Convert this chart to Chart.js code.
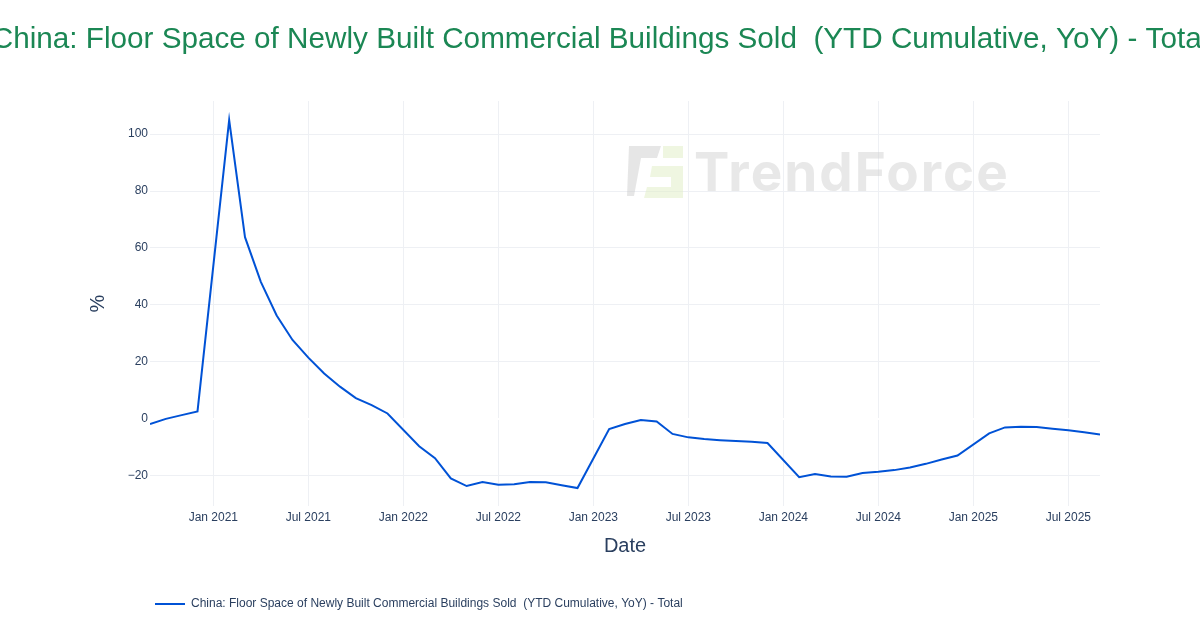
<!DOCTYPE html>
<html lang="en">
<head>
<meta charset="UTF-8">
<title>China: Floor Space of Newly Built Commercial Buildings Sold</title>
<script src="https://cdn.jsdelivr.net/npm/chart.js"></script>
<style>
  html, body { margin: 0; padding: 0; background: #fff; }
</style>
</head>
<body>
<canvas id="chart" width="1200" height="630"></canvas>
<script>
// monthly data (YTD cumulative, YoY %); Jan is reported together with Feb
const months = [
  '2020-09', '2020-10', '2020-11', '2020-12',
  '2021-02', '2021-03', '2021-04', '2021-05', '2021-06', '2021-07', '2021-08', '2021-09', '2021-10', '2021-11', '2021-12',
  '2022-02', '2022-03', '2022-04', '2022-05', '2022-06', '2022-07', '2022-08', '2022-09', '2022-10', '2022-11', '2022-12',
  '2023-02', '2023-03', '2023-04', '2023-05', '2023-06', '2023-07', '2023-08', '2023-09', '2023-10', '2023-11', '2023-12',
  '2024-02', '2024-03', '2024-04', '2024-05', '2024-06', '2024-07', '2024-08', '2024-09', '2024-10', '2024-11', '2024-12',
  '2025-02', '2025-03', '2025-04', '2025-05', '2025-06', '2025-07', '2025-08', '2025-09'
];
const yoy = [
  -1.8, 0.0, 1.3, 2.6,
  104.9, 63.8, 48.1, 36.3, 27.7, 21.5, 15.9, 11.3, 7.3, 4.8, 1.9,
  -9.6, -13.8, -20.9, -23.6, -22.2, -23.1, -23.0, -22.2, -22.3, -23.3, -24.3,
  -3.6, -1.8, -0.4, -0.9, -5.3, -6.5, -7.1, -7.5, -7.8, -8.0, -8.5,
  -20.5, -19.4, -20.2, -20.3, -19.0, -18.6, -18.0, -17.1, -15.8, -14.3, -12.9,
  -5.1, -3.0, -2.8, -2.9, -3.5, -4.0, -4.7, -5.5
];
const tickMonths = ['2021-01', '2021-07', '2022-01', '2022-07', '2023-01', '2023-07', '2024-01', '2024-07', '2025-01', '2025-07'];
const tickLabels = ['Jan 2021', 'Jul 2021', 'Jan 2022', 'Jul 2022', 'Jan 2023', 'Jul 2023', 'Jan 2024', 'Jul 2024', 'Jan 2025', 'Jul 2025'];

const seriesName = 'China: Floor Space of Newly Built Commercial Buildings Sold  (YTD Cumulative, YoY) - Total';

// months counted from Jan 2021
function monthIndex(s) {
  const [y, m] = s.split('-').map(Number);
  return (y - 2021) * 12 + (m - 1);
}

const FONT = "'Liberation Sans', Arial, sans-serif";
const TEXT = '#2a3f5f';
const GRID = '#eef0f4';

// faint TrendForce watermark behind the line
const watermark = {
  id: 'watermark',
  beforeDatasetsDraw(chart) {
    const c = chart.ctx;
    c.save();
    c.fillStyle = 'rgba(200,200,200,0.45)';
    c.beginPath();
    c.moveTo(629, 146); c.lineTo(661, 146); c.lineTo(657, 158); c.lineTo(641, 158);
    c.lineTo(634, 196); c.lineTo(627, 196); c.closePath();
    c.fill();
    c.fillStyle = 'rgba(225,238,200,0.55)';
    c.fillRect(663, 146, 20, 12);
    c.beginPath();
    c.moveTo(652, 166); c.lineTo(683, 166); c.lineTo(683, 198); c.lineTo(644, 198);
    c.lineTo(647, 187); c.lineTo(671, 187); c.lineTo(671, 177); c.lineTo(650, 177); c.closePath();
    c.fill();
    c.fillStyle = 'rgba(205,205,205,0.45)';
    c.font = "bold 53px Inter, 'Open Sans', sans-serif";
    c.letterSpacing = '2px';
    c.textBaseline = 'alphabetic';
    c.fillText('TrendForce', 694, 191);
    c.restore();
  }
};

// page title, centred on the canvas and allowed to run off both edges
const pageTitle = {
  id: 'pageTitle',
  afterDraw(chart) {
    const c = chart.ctx;
    c.save();
    c.fillStyle = '#1b8754';
    c.font = '29.7px ' + FONT;
    c.textAlign = 'center';
    c.textBaseline = 'middle';
    c.fillText(seriesName, chart.width / 2, 40);
    c.restore();
  }
};

new Chart(document.getElementById('chart'), {
  type: 'line',
  data: {
    datasets: [{
      label: seriesName,
      data: months.map((m, i) => ({ x: monthIndex(m), y: yoy[i] })),
      borderColor: '#0052d6',
      backgroundColor: '#0052d6',
      borderWidth: 2,
      pointRadius: 0,
      tension: 0,
      fill: false
    }]
  },
  options: {
    responsive: false,
    animation: false,
    devicePixelRatio: 1,
    layout: { padding: { left: 0, right: 100, top: 101, bottom: 10 } },
    plugins: {
      title: { display: false },
      legend: {
        position: 'bottom',
        align: 'start',
        fullSize: false,
        labels: {
          usePointStyle: true,
          pointStyle: 'line',
          pointStyleWidth: 30,
          padding: 5,
          color: TEXT,
          font: { family: FONT, size: 12 }
        }
      },
      tooltip: { enabled: false }
    },
    scales: {
      x: {
        type: 'linear',
        min: -4,
        max: 56,
        afterBuildTicks: s => { s.ticks = tickMonths.map(m => ({ value: monthIndex(m) })); },
        afterFit: s => { s.height = 87; },
        ticks: {
          autoSkip: false,
          maxRotation: 0,
          padding: 4,
          color: TEXT,
          font: { family: FONT, size: 12 },
          callback: v => tickLabels[tickMonths.findIndex(m => monthIndex(m) === v)]
        },
        grid: { color: GRID, drawTicks: false },
        border: { display: false },
        title: {
          display: true,
          text: 'Date',
          color: TEXT,
          font: { family: FONT, size: 20 },
          padding: { top: 0, bottom: 35 }
        }
      },
      y: {
        min: -30.6,
        max: 111.6,
        afterFit: s => { s.width = 150; },
        ticks: {
          stepSize: 20,
          includeBounds: false,
          padding: 2,
          color: TEXT,
          font: { family: FONT, size: 12 },
          callback: v => v < 0 ? '\u2212' + Math.abs(v) : String(v)
        },
        grid: {
          z: -0.5,
          drawTicks: false,
          color: c => c.tick && c.tick.value === 0 ? '#ffffff' : GRID,
          lineWidth: c => c.tick && c.tick.value === 0 ? 2 : 1
        },
        border: { display: false },
        title: {
          display: true,
          text: '%',
          color: TEXT,
          font: { family: FONT, size: 20 },
          padding: { top: 86, bottom: 0 }
        }
      }
    }
  },
  plugins: [watermark, pageTitle]
});
</script>
</body>
</html>
